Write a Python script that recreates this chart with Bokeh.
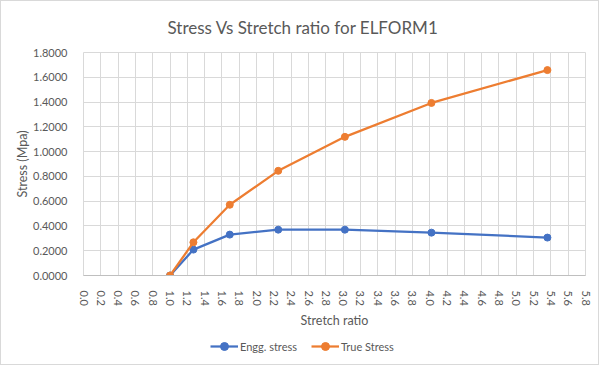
from bokeh.plotting import figure
from bokeh.layouts import column
from bokeh.models import (FixedTicker, NumeralTickFormatter, Legend, LegendItem, Range1d)
from bokeh.embed import file_html
from bokeh.resources import INLINE

stretch = [1.0, 1.27, 1.69, 2.25, 3.02, 4.02, 5.36]
engg_stress = [0.0, 0.209, 0.330, 0.370, 0.370, 0.346, 0.306]
true_stress = [0.0, 0.268, 0.571, 0.845, 1.119, 1.393, 1.658]
series_names = ["Engg. stress", "True Stress"]
x_ticks = [round(0.2 * i, 1) for i in range(30)]
y_ticks = [round(0.2 * i, 1) for i in range(10)]

TXT = "#595959"
FONT = "Lato"
BLUE = "#4472C4"
ORANGE = "#ED7D31"
COLORS = [BLUE, ORANGE]
SERIES = [engg_stress, true_stress]

p = figure(width=597, height=334, output_backend="svg", toolbar_location=None,
           x_range=Range1d(0, 5.8), y_range=Range1d(0, 1.8),
           min_border_left=82, min_border_right=13, min_border_top=51, min_border_bottom=60)

p.title.text = "Stress Vs Stretch ratio for ELFORM1"
p.title.align = "left"
p.title.offset = 84
p.title.vertical_align = "top"
p.title.text_font = FONT
p.title.text_font_size = "17px"
p.title.text_font_style = "normal"
p.title.text_color = TXT
p.title.standoff = 25

p.outline_line_color = "#d9d9d9"
p.xgrid.grid_line_color = "#d9d9d9"
p.ygrid.grid_line_color = "#d9d9d9"
p.xaxis.ticker = FixedTicker(ticks=x_ticks)
p.yaxis.ticker = FixedTicker(ticks=y_ticks)
p.xaxis.formatter = NumeralTickFormatter(format="0.0")
p.yaxis.formatter = NumeralTickFormatter(format="0.0000")
p.xaxis.major_label_orientation = "vertical"

for ax in (p.xaxis[0], p.yaxis[0]):
    ax.major_tick_line_color = None
    ax.minor_tick_line_color = None
    ax.major_label_text_font = FONT
    ax.major_label_text_font_size = "11px"
    ax.major_label_text_color = TXT
    ax.axis_label_text_font = FONT
    ax.axis_label_text_font_size = "12.5px"
    ax.axis_label_text_font_style = "normal"
    ax.axis_label_text_color = TXT
p.yaxis.axis_line_color = None
p.xaxis.axis_line_color = "#bfbfbf"
p.xaxis.axis_label = "Stretch ratio"
p.yaxis.axis_label = "Stress (Mpa)"
p.xaxis.major_label_standoff = 9
p.yaxis.major_label_standoff = 10
p.xaxis.axis_label_standoff = 4
p.yaxis.axis_label_standoff = 0

for ys, col in zip(SERIES, COLORS):
    p.line(stretch, ys, line_color=col, line_width=2.25)
    p.scatter(stretch, ys, size=7, fill_color=col, line_color=col)

# legend strip below the chart; its renderers are hidden (legend glyphs only)
p2 = figure(width=597, height=29, output_backend="svg", toolbar_location=None,
            x_range=Range1d(0, 5.8), y_range=Range1d(0, 1.8),
            min_border_left=0, min_border_right=0, min_border_top=0, min_border_bottom=0)
p2.xaxis.visible = False
p2.yaxis.visible = False
p2.xgrid.visible = False
p2.ygrid.visible = False
p2.outline_line_color = None
items = []
for name, ys, col in zip(series_names, SERIES, COLORS):
    lr = p2.line(stretch, ys, line_color=col, line_width=2.25, visible=False)
    sr = p2.scatter(stretch, ys, size=7, fill_color=col, line_color=col, visible=False)
    items.append(LegendItem(label=name, renderers=[lr, sr]))

legend = Legend(items=items, orientation="horizontal", location=(127, 8),
                label_text_font=FONT, label_text_font_size="11px", label_text_color=TXT,
                border_line_color=None, background_fill_alpha=0,
                inactive_fill_alpha=0,
                glyph_width=28, glyph_height=20, label_standoff=2, spacing=14,
                padding=0, margin=0)
p2.add_layout(legend, "center")

layout = column(p, p2, spacing=0)
layout.styles = {"border": "1px solid #d9d9d9"}

open("out.html", "w").write(file_html(layout, INLINE))
